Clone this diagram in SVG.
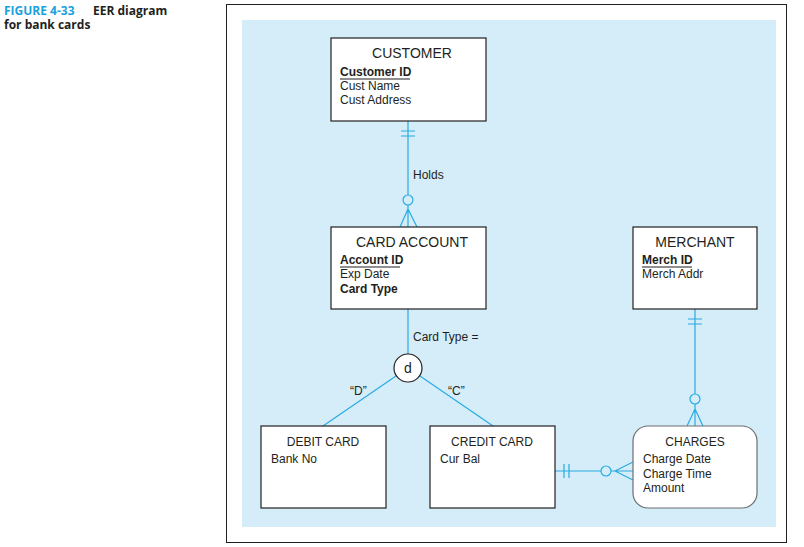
<svg xmlns="http://www.w3.org/2000/svg" width="804" height="547" viewBox="0 0 804 547">
<style>
.box{fill:#fff;stroke:#231f20;stroke-width:1.2}
.ln{stroke:#29abe2;stroke-width:1.2;fill:none}
.t{font-family:"Liberation Sans",Arial,sans-serif;font-size:12px;fill:#231f20}
.h{font-family:"Liberation Sans",Arial,sans-serif;font-size:14px;fill:#231f20}
.b{font-weight:bold}
.cap{font-family:"Open Sans","Liberation Sans",sans-serif;font-size:12px;font-weight:bold}
</style>
<text class="cap" x="4" y="15" fill="#1ba1dc">FIGURE 4-33</text>
<text class="cap" x="93" y="15" fill="#231f20">EER diagram</text>
<text class="cap" x="4" y="29" fill="#231f20">for bank cards</text>
<rect x="226.5" y="4.5" width="560" height="538" fill="#fff" stroke="#231f20"/>
<rect x="242" y="20" width="534" height="507" fill="#d4edf9"/>
<g id="connectors" class="ln">
<path d="M408 121V227M401 131H415M401 136H415M408 209L400 227M408 209L417 227"/>
<circle cx="408" cy="200" r="5" fill="#d4edf9"/>
<path d="M408 309V354M396 376L323 426M420 376L493 426"/>
<path d="M695 309V426M688 319H702M688 324H702M695 409L687 426M695 409L703 426"/>
<circle cx="695" cy="399" r="5" fill="#d4edf9"/>
<path d="M555 471H633M564 464V478M569 464V478M615 471L633 462M615 471L633 480"/>
<circle cx="606" cy="471" r="5" fill="#d4edf9"/>
</g>
<text class="t" x="413" y="179">Holds</text>
<text class="t" x="413" y="341">Card Type =</text>
<text class="t" x="350" y="395">“D”</text>
<text class="t" x="448" y="395">“C”</text>
<g id="customer"><rect class="box" x="331" y="38" width="155" height="83"/>
<text class="h" x="412" y="58" text-anchor="middle">CUSTOMER</text>
<text class="t b" x="340" y="76">Customer ID</text><path d="M340 79H410" stroke="#231f20"/>
<text class="t" x="340" y="90">Cust Name</text><text class="t" x="340" y="104">Cust Address</text></g>
<g id="cardaccount"><rect class="box" x="331" y="227" width="155" height="82"/>
<text class="h" x="412" y="247" text-anchor="middle">CARD ACCOUNT</text>
<text class="t b" x="340" y="264">Account ID</text><path d="M340 267H400" stroke="#231f20"/>
<text class="t" x="340" y="278">Exp Date</text><text class="t b" x="340" y="293">Card Type</text></g>
<g id="merchant"><rect class="box" x="633" y="227" width="124" height="82"/>
<text class="h" x="695" y="247" text-anchor="middle">MERCHANT</text>
<text class="t b" x="642" y="264">Merch ID</text><path d="M642 267H692" stroke="#231f20"/>
<text class="t" x="642" y="278">Merch Addr</text></g>
<g id="d"><circle cx="408" cy="368" r="14" fill="#fff" stroke="#231f20" stroke-width="1.2"/>
<text class="h" x="408" y="373" text-anchor="middle">d</text></g>
<g id="debit"><rect class="box" x="261" y="426" width="125" height="82"/>
<text class="t" x="323" y="446" text-anchor="middle">DEBIT CARD</text><text class="t" x="271" y="463">Bank No</text></g>
<g id="credit"><rect class="box" x="430" y="426" width="125" height="82"/>
<text class="t" x="492" y="446" text-anchor="middle">CREDIT CARD</text><text class="t" x="440" y="463">Cur Bal</text></g>
<g id="charges"><rect x="633" y="426" width="124" height="82" rx="15" fill="#fff" stroke="#6d6e70" stroke-width="1.2"/>
<text class="t" x="695" y="446" text-anchor="middle">CHARGES</text>
<text class="t" x="643" y="463">Charge Date</text><text class="t" x="643" y="478">Charge Time</text><text class="t" x="643" y="492">Amount</text></g>
</svg>
